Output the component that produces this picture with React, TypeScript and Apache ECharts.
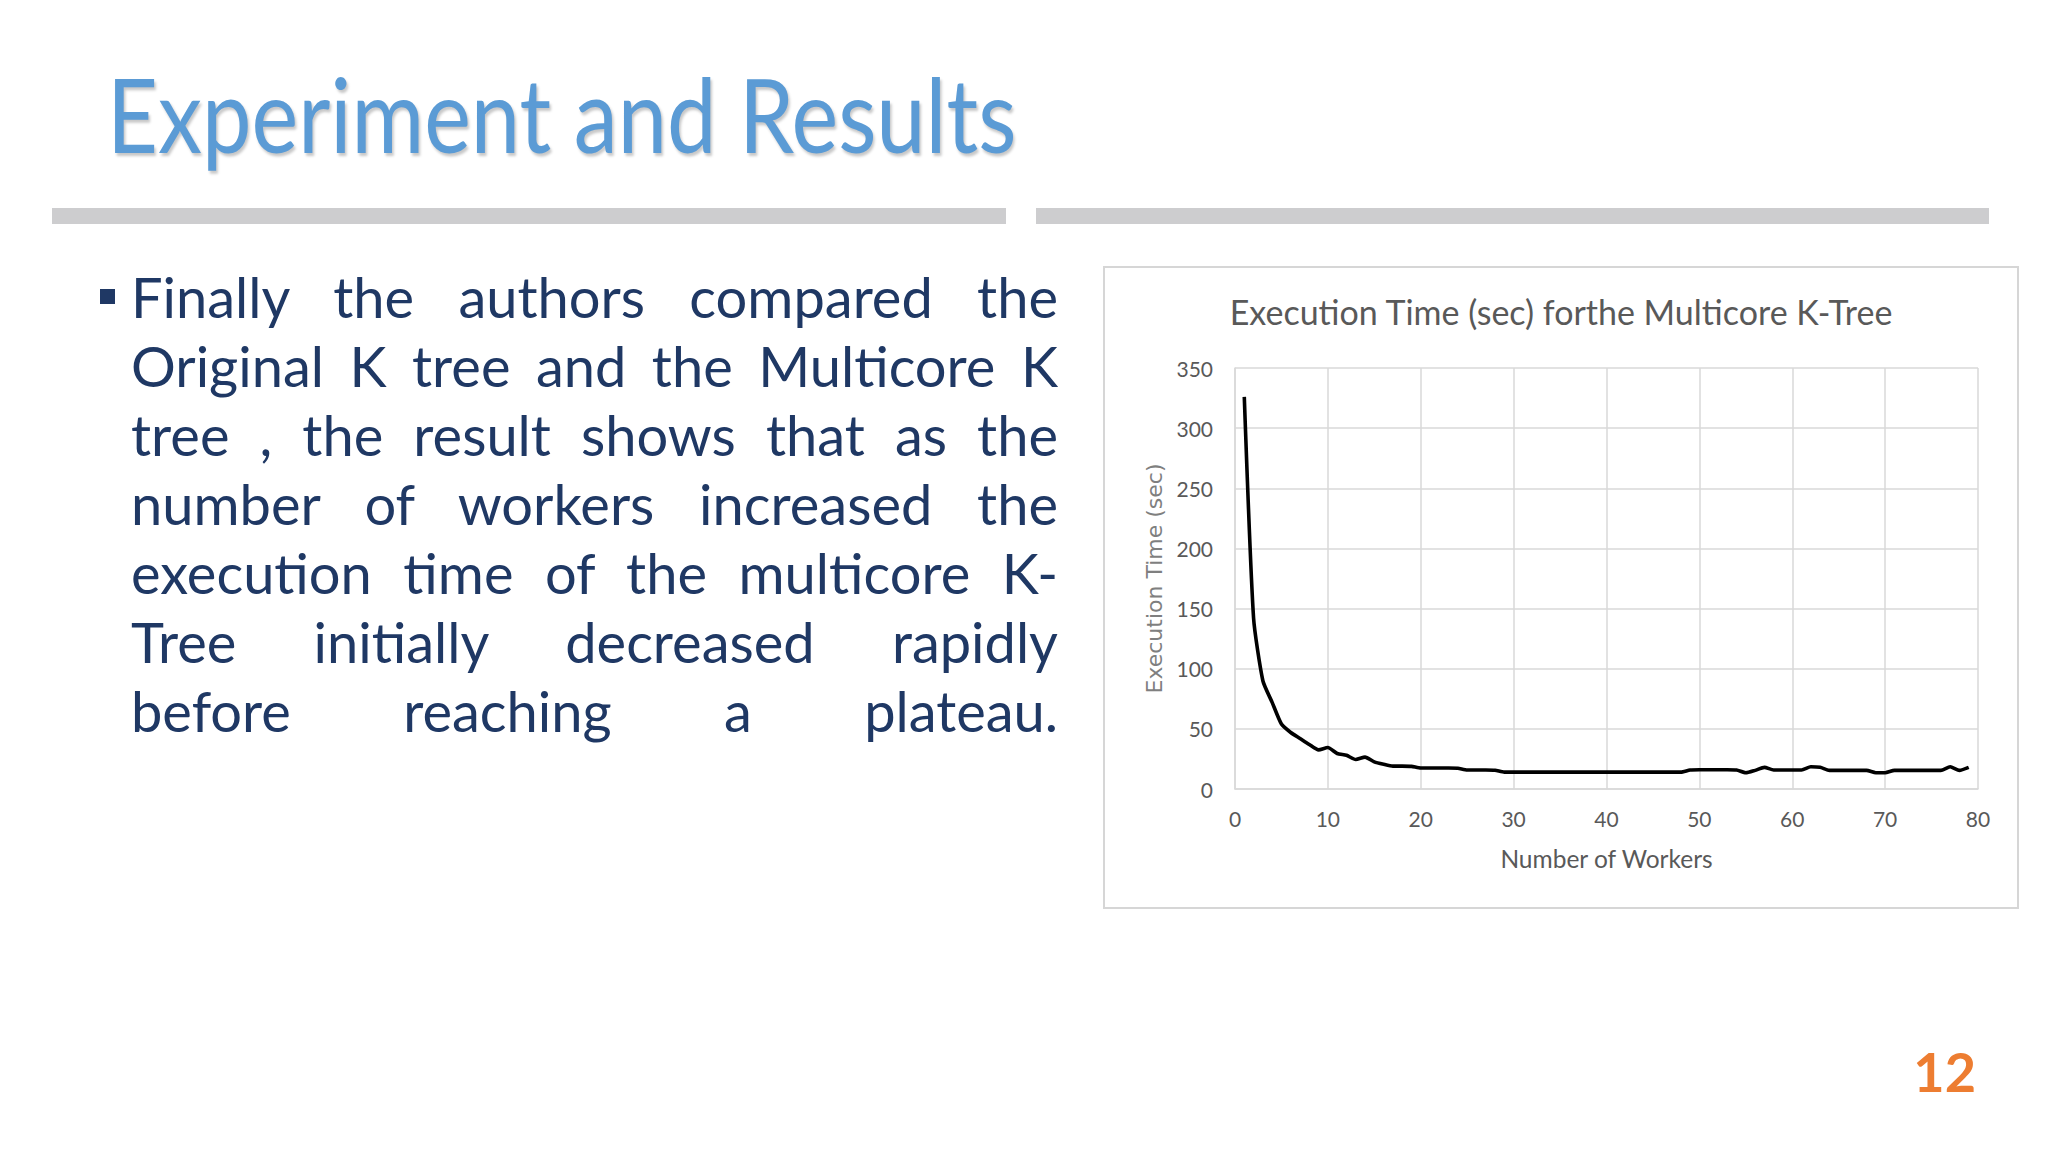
import React, { useEffect, useRef } from "react";
import * as echarts from "echarts";

const slideTitle = "Experiment and Results";
const chartTitle = "Execution Time (sec) forthe Multicore K-Tree";
const xAxisName = "Number of Workers";
const yAxisName = "Execution Time (sec)";
const pageNumber = "12";

const paragraphLines = [
  "Finally the authors compared the",
  "Original K tree and the Multicore K",
  "tree , the result shows that as the",
  "number of workers increased the",
  "execution time of the multicore K-",
  "Tree initially decreased rapidly",
  "before reaching a plateau.",
];

const workers = [
  1, 2, 3, 4, 5, 6, 7, 8, 9, 10,
  11, 12, 13, 14, 15, 16, 17, 18, 19, 20,
  21, 22, 23, 24, 25, 26, 27, 28, 29, 30,
  31, 32, 33, 34, 35, 36, 37, 38, 39, 40,
  41, 42, 43, 44, 45, 46, 47, 48, 49, 50,
  51, 52, 53, 54, 55, 56, 57, 58, 59, 60,
  61, 62, 63, 64, 65, 66, 67, 68, 69, 70,
  71, 72, 73, 74, 75, 76, 77, 78, 79,
];

const execTime = [
  326, 142, 90, 72, 54, 47, 42, 37, 32.5, 34.5,
  29.5, 28, 24.5, 26.5, 22.5, 20.5, 19, 19, 18.8, 17.5,
  17.5, 17.5, 17.5, 17.2, 15.8, 15.8, 15.8, 15.6, 14, 14,
  14, 14, 14, 14, 14, 14, 14, 14, 14, 14,
  14, 14, 14, 14, 14, 14, 14, 14, 15.8, 16,
  16, 16, 16, 15.8, 13.5, 15.5, 18, 15.8, 15.8, 15.8,
  15.8, 18.5, 18, 15.5, 15.5, 15.5, 15.5, 15.5, 13.5, 13.5,
  15.5, 15.5, 15.5, 15.5, 15.5, 15.5, 18.5, 15.5, 18,
];

const xMin = 0;
const xMax = 80;
const xStep = 10;
const yMin = 0;
const yMax = 350;
const yStep = 50;

function Chart() {
  const ref = useRef<HTMLDivElement>(null);
  useEffect(() => {
    if (!ref.current) return;
    const chart = echarts.init(ref.current, undefined, { renderer: "svg" });
    const seriesData = workers.map((w, i) => [w, execTime[i]]);
    chart.setOption({
      animation: false,
      backgroundColor: "#ffffff",
      title: {
        text: chartTitle,
        left: "center",
        top: 23,
        textStyle: {
          fontFamily: "Lato",
          fontSize: 34,
          fontWeight: "normal",
          color: "#595959",
        },
      },
      grid: { left: 132, top: 102, right: 41, bottom: 120 },
      xAxis: {
        type: "value",
        min: xMin,
        max: xMax,
        interval: xStep,
        name: xAxisName,
        nameLocation: "middle",
        nameGap: 57,
        nameTextStyle: { fontFamily: "Lato", fontSize: 24.5, color: "#595959" },
        axisLine: { show: true, lineStyle: { color: "#D9D9D9", width: 1.5 } },
        axisTick: { show: false },
        axisLabel: { color: "#595959", fontFamily: "Lato", fontSize: 21, margin: 19 },
        splitLine: { show: true, lineStyle: { color: "#D9D9D9", width: 1.5 } },
      },
      yAxis: {
        type: "value",
        min: yMin,
        max: yMax,
        interval: yStep,
        name: yAxisName,
        nameLocation: "middle",
        nameGap: 68,
        nameTextStyle: { fontFamily: "DejaVu Sans", fontSize: 22, color: "#7F7F7F" },
        axisLine: { show: true, lineStyle: { color: "#D9D9D9", width: 1.5 } },
        axisTick: { show: false },
        axisLabel: { color: "#595959", fontFamily: "Lato", fontSize: 21, margin: 22 },
        splitLine: { show: true, lineStyle: { color: "#D9D9D9", width: 1.5 } },
      },
      series: [
        {
          type: "line",
          data: seriesData,
          symbol: "none",
          smooth: 0.2,
          lineStyle: { color: "#000000", width: 3.6 },
        },
      ],
    });
    return () => chart.dispose();
  }, []);
  return (
    <div
      ref={ref}
      style={{ position: "absolute", left: 1103, top: 266, width: 916, height: 643 }}
    />
  );
}

export default function App() {
  return (
    <div
      style={{
        position: "absolute",
        left: 0,
        top: 0,
        width: 2048,
        height: 1152,
        background: "#ffffff",
        overflow: "hidden",
        fontFamily: "Lato, 'Open Sans', sans-serif",
      }}
    >
      <div
        style={{
          position: "absolute",
          left: 107,
          top: 63,
          fontSize: 102,
          lineHeight: "102px",
          color: "#5B9BD5",
          whiteSpace: "nowrap",
          transform: "scaleX(0.866)",
          transformOrigin: "left top",
          textShadow: "2px 3px 3px rgba(0,0,0,0.22)",
        }}
      >
        {slideTitle}
      </div>
      <div style={{ position: "absolute", left: 52, top: 208, width: 954, height: 16, background: "#CDCDCF" }} />
      <div style={{ position: "absolute", left: 1036, top: 208, width: 953, height: 16, background: "#CDCDCF" }} />

      <div style={{ position: "absolute", left: 100, top: 289, width: 15, height: 15, background: "#1F3864" }} />
      <div
        style={{
          position: "absolute",
          left: 131,
          top: 262,
          width: 927,
          fontSize: 56,
          color: "#1F3864",
        }}
      >
        {paragraphLines.map((line, i) => (
          <div
            key={i}
            style={{
              height: 69,
              lineHeight: "69px",
              textAlign: "justify",
              textAlignLast: "justify",
              whiteSpace: "nowrap",
            }}
          >
            {line}
          </div>
        ))}
      </div>

      <Chart />
      <div
        style={{
          position: "absolute",
          left: 1103,
          top: 266,
          width: 916,
          height: 643,
          border: "2px solid #D6D6D6",
          boxSizing: "border-box",
          pointerEvents: "none",
        }}
      />

      <div
        style={{
          position: "absolute",
          left: 1880,
          top: 1045,
          width: 96,
          textAlign: "right",
          fontSize: 54,
          lineHeight: "54px",
          fontWeight: "bold",
          color: "#ED7D31",
        }}
      >
        {pageNumber}
      </div>
    </div>
  );
}
